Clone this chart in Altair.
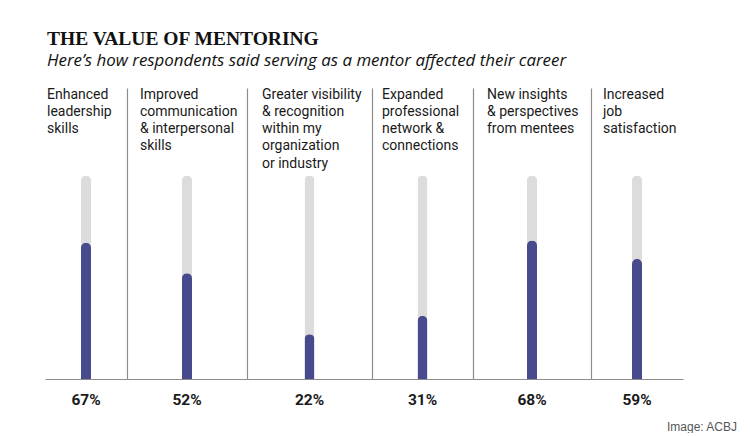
import altair as alt
import pandas as pd

# ---- data ----
categories = [
    "Enhanced leadership skills",
    "Improved communication & interpersonal skills",
    "Greater visibility & recognition within my organization or industry",
    "Expanded professional network & connections",
    "New insights & perspectives from mentees",
    "Increased job satisfaction",
]
label_lines = [
    "Enhanced\nleadership\nskills",
    "Improved\ncommunication\n& interpersonal\nskills",
    "Greater visibility\n& recognition\nwithin my\norganization\nor industry",
    "Expanded\nprofessional\nnetwork &\nconnections",
    "New insights\n& perspectives\nfrom mentees",
    "Increased\njob\nsatisfaction",
]
values = [67, 52, 22, 31, 68, 59]
value_labels = ["67%", "52%", "22%", "31%", "68%", "59%"]
track = [100, 100, 100, 100, 100, 100]

df = pd.DataFrame({
    "idx": list(range(len(categories))),
    "category": categories,
    "label": label_lines,
    "value": values,
    "vlabel": value_labels,
    "track": track,
})

# ---- style / layout ----
BAR = "#474a8c"
TRACK = "#dcdcdc"
RULE = "#8c8c8c"
TEXT = "#1a1a1a"
LABEL_FONT = "Roboto"
H = 291
YMAX = 143
PANEL_W = [82, 120, 125, 101, 118, 92]
LABEL_DX = [2, 13, 15, 10, 14, 12]


def panel(i):
    w = PANEL_W[i]
    base = alt.Chart(df).transform_filter(alt.datum.idx == i)
    xenc = alt.X(
        "category:N",
        scale=alt.Scale(paddingInner=0, paddingOuter=0),
        axis=alt.Axis(labels=False, ticks=False, title=None, grid=False,
                      domainColor=RULE, domainWidth=1.2),
    )
    if i == 0:
        yaxis = None
    else:
        yaxis = alt.Axis(labels=False, ticks=False, title=None, grid=False,
                         domainColor=RULE, domainWidth=1.2)
    yscale = alt.Scale(domain=[0, YMAX], nice=False)

    track_bar = base.mark_bar(
        size=10, color=TRACK, cornerRadiusTopLeft=5, cornerRadiusTopRight=5
    ).encode(x=xenc, y=alt.Y("track:Q", scale=yscale, axis=yaxis))
    value_bar = base.mark_bar(
        size=10, color=BAR, cornerRadiusTopLeft=5, cornerRadiusTopRight=5
    ).encode(x=xenc, y=alt.Y("value:Q", scale=yscale, axis=yaxis))
    label = base.mark_text(
        align="left", baseline="top", lineBreak="\n", font=LABEL_FONT,
        fontSize=14, lineHeight=17.3, color=TEXT,
    ).encode(x=alt.value(LABEL_DX[i]), y=alt.value(-0.5), text="label:N")
    vtext = base.mark_text(
        align="center", baseline="alphabetic", font=LABEL_FONT,
        fontSize=15.5, fontWeight="bold", color=TEXT,
    ).encode(x=xenc, y=alt.value(H + 26), text="vlabel:N")
    layers = [track_bar, value_bar, label, vtext]
    if i == len(categories) - 1:
        caption = base.mark_text(
            align="right", baseline="alphabetic", font="Liberation Sans",
            fontSize=12, color="#555555", text="Image: ACBJ",
        ).encode(x=alt.value(146), y=alt.value(H + 52))
        layers.append(caption)
    return alt.layer(*layers).properties(width=w, height=H)


chart = alt.hconcat(*[panel(i) for i in range(len(categories))], spacing=0).properties(
    title=alt.Title(
        "THE VALUE OF MENTORING",
        subtitle="Here\u2019s how respondents said serving as a mentor affected their career",
        anchor="start",
        dx=2,
        font="Liberation Serif",
        fontSize=19.5,
        fontWeight="bold",
        color="#111111",
        subtitleFont="Open Sans",
        subtitleFontStyle="italic",
        subtitleFontSize=16.9,
        subtitleColor="#111111",
        subtitlePadding=3,
        offset=18,
    ),
    padding={"left": 37, "top": 21, "right": 0, "bottom": 0},
).configure_view(stroke=None).configure_concat(spacing=0)

chart.save("out.html", embed_options={"renderer": "svg", "actions": False})
